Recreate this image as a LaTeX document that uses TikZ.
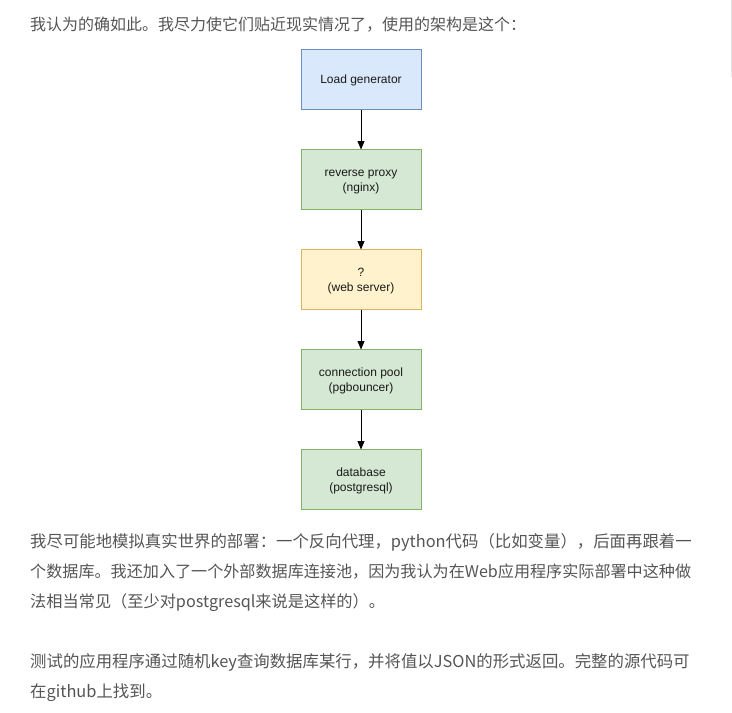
\documentclass[tikz,border=0pt]{standalone}
\usepackage{fontspec}
\setmainfont{Liberation Sans}
\newfontfamily\cjk{Noto Sans CJK SC}
\usetikzlibrary{positioning}
\usetikzlibrary{arrows}
\definecolor{bluefill}{HTML}{DAE8FC}
\definecolor{blueline}{HTML}{6C8EBF}
\definecolor{greenfill}{HTML}{D5E8D4}
\definecolor{greenline}{HTML}{82B366}
\definecolor{yellowfill}{HTML}{FFF2CC}
\definecolor{yellowline}{HTML}{D6B656}
\definecolor{bodytext}{HTML}{555555}
\newcommand{\zhcomma}{\char"FF0C\relax}
\newcommand{\zhcolon}{\char"FF1A\relax}
\newcommand{\zhopen}{\char"FF08\relax}
\newcommand{\zhclose}{\char"FF09\relax}
\tikzset{
	stage/.style={draw, line width=0.8pt, minimum width=120pt, minimum height=60pt, align=center, font=\fontsize{12}{14.5}\selectfont, text=black!90, inner sep=0pt, outer sep=0pt, text height=11.5pt, text depth=3pt},
	twoline/.style={text height=26pt},
	link/.style={draw, line width=0.9pt, arrows=-triangle 45},
	bodyline/.style={anchor=base west, inner sep=0pt, text=bodytext, font=\cjk\fontsize{#1}{18}\selectfont},
	bodyline/.default=16.4
}

\begin{document}
\begin{tikzpicture}[x=1pt, y=-1pt, node distance=40pt]
	\useasboundingbox (0,0) rectangle (732,713);
	\draw[black!10, line width=0.8pt] (731.5,0) -- (731.5,77);
	\node[bodyline=16] (intro) at (30,30) {我认为的确如此。我尽力使它们贴近现实情况了\zhcomma 使用的架构是这个\zhcolon};
	\node[stage, fill=bluefill, draw=blueline] (loadgen) at (361,79.5) {Load generator};
	\node[stage, twoline, fill=greenfill, draw=greenline, below=of loadgen] (proxy) {reverse proxy\\(nginx)};
	\node[stage, twoline, fill=yellowfill, draw=yellowline, below=of proxy] (webserver) {?\\(web server)};
	\node[stage, twoline, fill=greenfill, draw=greenline, below=of webserver] (pool) {connection pool\\(pgbouncer)};
	\node[stage, twoline, fill=greenfill, draw=greenline, below=of pool] (database) {database\\(postgresql)};
	\draw[link] (loadgen) -- (proxy);
	\draw[link] (proxy) -- (webserver);
	\draw[link] (webserver) -- (pool);
	\draw[link] (pool) -- (database);
	\node[bodyline] (deployA) at (30,547) {我尽可能地模拟真实世界的部署\zhcolon 一个反向代理\zhcomma python代码\zhopen 比如变量\zhclose\zhcomma 后面再跟着一};
	\node[bodyline=16.1] (deployB) at (30,577) {个数据库。我还加入了一个外部数据库连接池\zhcomma 因为我认为在Web应用程序实际部署中这种做};
	\node[bodyline=16.2] (deployC) at (30,607) {法相当常见\zhopen 至少对postgresql来说是这样的\zhclose。};
	\node[bodyline] (testA) at (30,667) {测试的应用程序通过随机key查询数据库某行\zhcomma 并将值以JSON的形式返回。完整的源代码可};
	\node[bodyline] (testB) at (30,697) {在github上找到。};
\end{tikzpicture}
\end{document}
